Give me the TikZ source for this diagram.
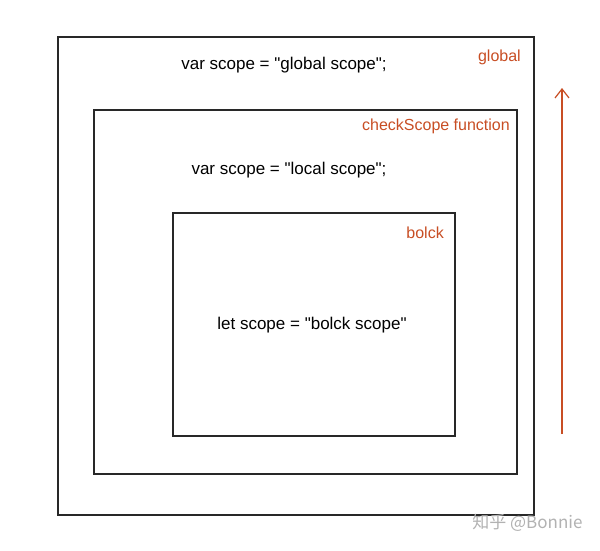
\documentclass[tikz,border=0pt]{standalone}
\usepackage{fontspec}
\setmainfont{Liberation Sans}[Ligatures=TeXOff]
\newfontfamily\cjk{Noto Sans CJK SC}
\usetikzlibrary{arrows.meta}
\definecolor{scopered}{RGB}{200,78,36}
\definecolor{boxline}{RGB}{40,40,40}
\tikzset{
  x=1pt, y=-1pt,
  scopebox/.style={draw=boxline, line width=1.2pt},
  code/.style={font=\fontsize{17}{19}\selectfont, text=black, inner sep=0pt},
  tag/.style={font=\fontsize{16}{18}\selectfont, text=scopered, inner sep=0pt},
}
\begin{document}
\begin{tikzpicture}
\useasboundingbox (0,0) rectangle (600,550);
\fill[white] (0,0) rectangle (600,550);
\draw[scopebox] (58,37) rectangle (534,515);
\draw[scopebox] (94,110) rectangle (517,474);
\draw[scopebox] (173,213) rectangle (455,436);
\node[code] (g) at (284,65) {var scope = "global scope";};
\node[tag, anchor=east] (gt) at (521,57) {global};
\node[tag, anchor=east] (ct) at (510,126) {checkScope function};
\node[code] (l) at (289,170) {var scope = "local scope";};
\node[tag, anchor=east] (bt) at (444,233) {bolck};
\node[code] (b) at (312,325) {let scope = "bolck scope"};
\coordinate (a1) at (562,434);
\coordinate (a2) at (562,88);
\draw[scopered, line width=1.2pt, -{Straight Barb[length=9pt, width=14pt]}] (a1) -- (a2);
\node[font=\cjk\fontsize{17}{19}\selectfont, text=gray!60, anchor=east] (wm) at (586,523) {知乎 @Bonnie};
\end{tikzpicture}
\end{document}
